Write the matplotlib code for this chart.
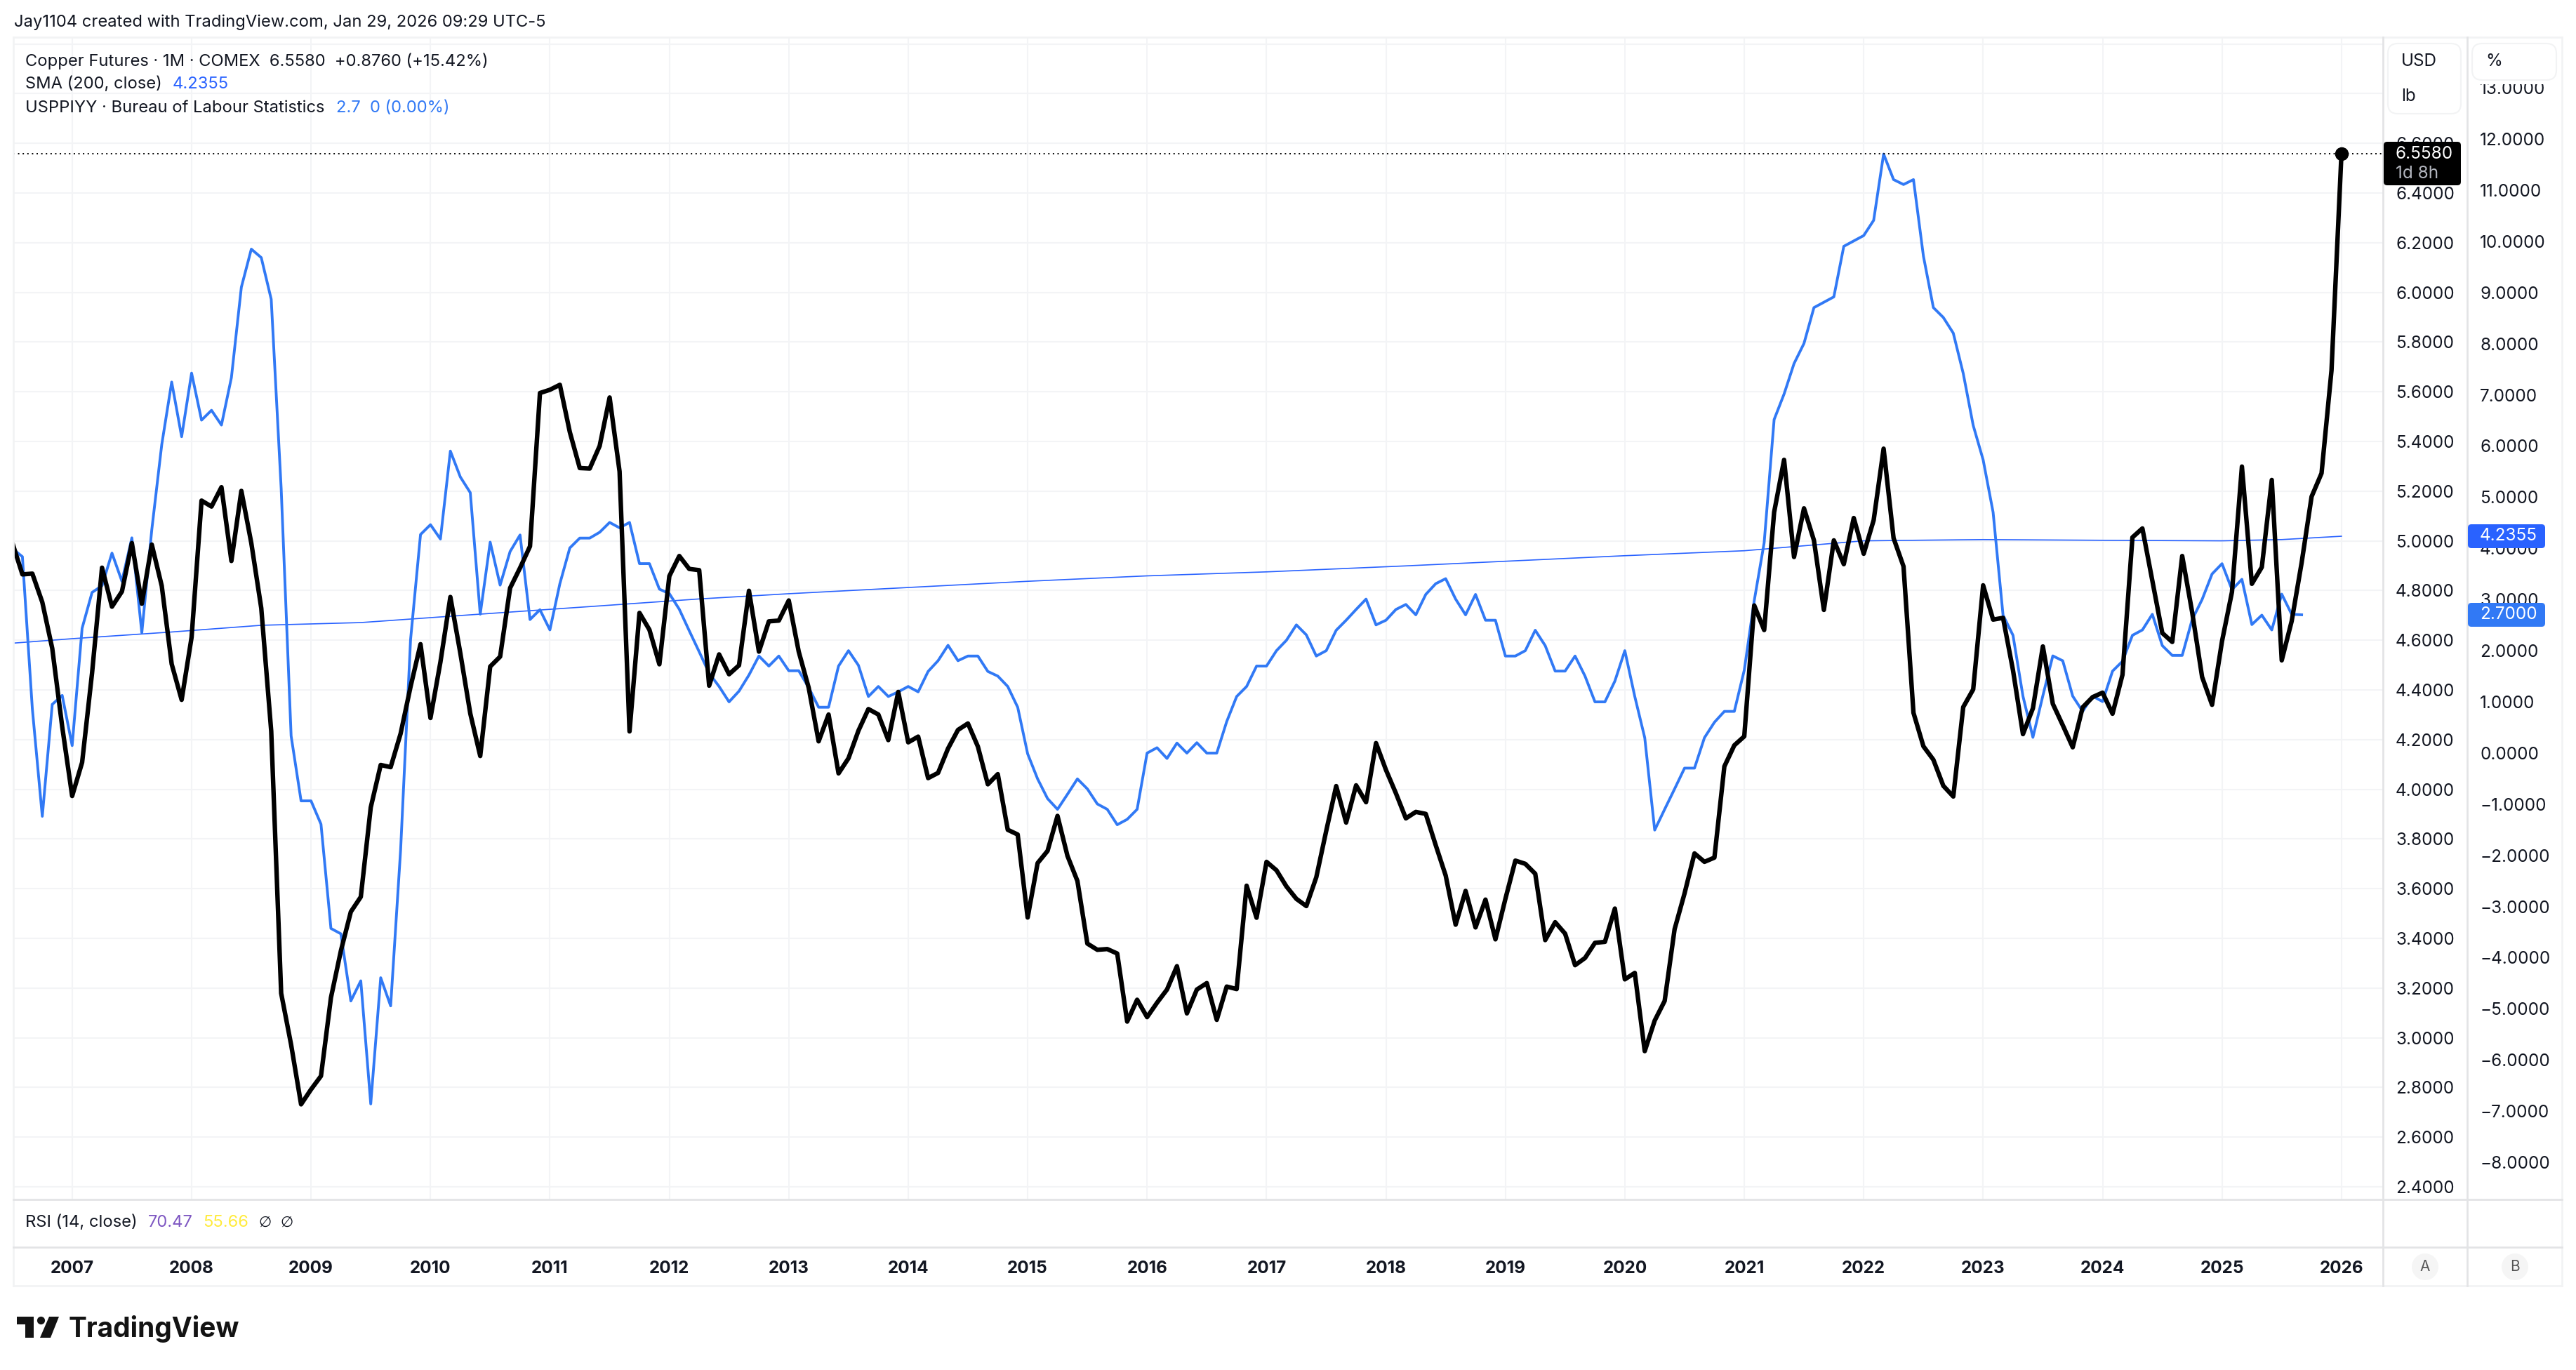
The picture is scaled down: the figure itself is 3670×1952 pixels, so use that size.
import matplotlib
matplotlib.use("Agg")
import matplotlib.pyplot as plt
import pandas as pd
from matplotlib.lines import Line2D
from matplotlib.patches import FancyBboxPatch, Circle, Polygon, Rectangle
from matplotlib.transforms import Affine2D

plt.rcParams['font.family'] = ['Inter', 'DejaVu Sans']

W, H = 3670, 1952
first_month = '2006-07'
last_month = '2026-01'

# Copper Futures, monthly close, USD/lb (Jul 2006 .. Jan 2026)
copper = [
 4.991,4.865,4.868,4.753,4.567,4.252,
 3.973,4.108,4.468,4.892,4.735,4.796,4.991,4.747,4.985,4.819,4.504,4.360,
 4.612,5.162,5.138,5.216,4.919,5.201,4.991,4.729,4.234,3.179,2.972,2.732,
 2.792,2.846,3.161,3.350,3.507,3.567,3.927,4.098,4.089,4.224,4.413,4.584,
 4.287,4.512,4.774,4.548,4.305,4.134,4.494,4.534,4.810,4.891,4.978,5.595,
 5.608,5.628,5.438,5.293,5.291,5.382,5.577,5.279,4.233,4.710,4.642,4.503,
 4.858,4.939,4.887,4.882,4.417,4.543,4.463,4.499,4.799,4.554,4.676,4.679,
 4.760,4.554,4.409,4.193,4.301,4.064,4.125,4.236,4.323,4.301,4.198,4.392,
 4.189,4.212,4.045,4.066,4.164,4.239,4.265,4.172,4.020,4.061,3.837,3.818,
 3.484,3.703,3.752,3.893,3.732,3.631,3.379,3.354,3.357,3.339,3.065,3.153,
 3.083,3.141,3.194,3.288,3.098,3.194,3.220,3.072,3.206,3.196,3.612,3.483,
 3.708,3.674,3.609,3.559,3.530,3.646,3.833,4.013,3.866,4.016,3.948,4.186,
 4.078,3.984,3.883,3.909,3.901,3.775,3.653,3.455,3.591,3.444,3.556,3.396,
 3.559,3.713,3.700,3.660,3.393,3.465,3.419,3.292,3.321,3.382,3.386,3.520,
 3.235,3.261,2.946,3.069,3.148,3.437,3.581,3.742,3.708,3.725,4.092,4.177,
 4.213,4.740,4.641,5.115,5.326,4.935,5.131,5.002,4.722,5.002,4.906,5.092,
 4.948,5.083,5.371,5.011,4.897,4.308,4.173,4.119,4.014,3.971,4.331,4.402,
 4.821,4.683,4.690,4.479,4.222,4.326,4.575,4.344,4.258,4.169,4.330,4.371,
 4.389,4.304,4.461,5.014,5.050,4.839,4.629,4.593,4.939,4.713,4.452,4.340,
 4.596,4.794,5.299,4.827,4.894,5.245,4.519,4.677,4.912,5.178,5.272,5.686,
 6.558]

# USPPIYY, percent (Jul 2006 .. Sep 2025)
ppi = [
 3.994,3.836,0.862,-1.238,0.949,1.124,
 0.144,2.437,3.137,3.268,3.906,3.355,4.204,2.349,4.361,6.024,7.249,6.181,
 7.424,6.505,6.697,6.409,7.336,9.103,9.847,9.681,8.867,5.170,0.332,-0.937,
 -0.937,-1.392,-3.430,-3.535,-4.848,-4.454,-6.860,-4.393,-4.944,-1.899,2.213,4.269,
 4.461,4.181,5.900,5.394,5.087,2.712,4.120,3.280,3.936,4.260,2.607,2.799,
 2.405,3.307,4.006,4.199,4.199,4.313,4.505,4.400,4.505,3.700,3.700,3.202,
 3.114,2.808,2.388,1.977,1.558,1.299,0.998,1.208,1.523,1.894,1.698,1.894,
 1.607,1.607,1.278,0.893,0.893,1.698,1.999,1.712,1.103,1.299,1.103,1.194,
 1.299,1.194,1.593,1.803,2.104,1.803,1.894,1.894,1.593,1.502,1.299,0.893,
 -0.017,-0.507,-0.892,-1.102,-0.808,-0.507,-0.703,-0.997,-1.102,-1.403,-1.298,-1.102,
 -0.003,0.102,-0.108,0.193,-0.003,0.200,-0.003,-0.003,0.613,1.103,1.299,1.698,
 1.698,1.999,2.202,2.503,2.307,1.894,1.999,2.398,2.594,2.804,3.007,2.503,
 2.594,2.804,2.902,2.699,3.098,3.308,3.406,3.007,2.699,3.098,2.594,2.594,
 1.894,1.894,1.999,2.398,2.097,1.600,1.600,1.894,1.502,0.998,0.998,1.404,
 1.999,1.103,0.298,-1.508,-1.102,-0.703,-0.297,-0.297,0.298,0.599,0.812,0.812,
 1.617,2.973,4.110,6.516,7.015,7.610,8.004,8.704,8.809,8.914,9.902,10.007,
 10.112,10.410,11.705,11.206,11.110,11.206,9.710,8.704,8.511,8.205,7.418,6.403,
 5.729,4.705,2.693,2.299,1.110,0.304,1.118,1.897,1.801,1.110,0.812,1.110,
 1.004,1.599,1.792,2.299,2.404,2.710,2.098,1.906,1.906,2.606,2.999,3.498,
 3.699,3.192,3.393,2.509,2.693,2.404,3.104,2.710,2.700]

# SMA (200, close) of USPPIYY, read at selected months
sma_months = ['2006-07','2007-01','2007-11','2008-08','2009-06','2010-06','2011-06','2012-04',
              '2013-01','2015-01','2016-01','2017-01','2018-03','2020-01','2021-01','2022-01',
              '2023-01','2024-01','2025-01','2025-07','2026-01']
sma_values = [2.145,2.233,2.364,2.495,2.548,2.713,2.874,3.010,
              3.112,3.355,3.461,3.539,3.656,3.855,3.952,4.146,
              4.170,4.156,4.146,4.170,4.2355]

price_ticks = [2.4,2.6,2.8,3.0,3.2,3.4,3.6,3.8,4.0,4.2,4.4,4.6,4.8,5.0,5.2,5.4,5.6,5.8,6.0,6.2,6.4,6.6,6.8,7.0]
price_hidden = [6.8, 7.0]  # gridlines only: the unit box covers these labels
pct_ticks = list(range(-8, 14))
year_labels = list(range(2007, 2027))

header = 'Jay1104 created with TradingView.com, Jan 29, 2026 09:29 UTC-5'
legend_copper = 'Copper Futures · 1M · COMEX  6.5580  +0.8760 (+15.42%)'
legend_sma = 'SMA (200, close)'
legend_sma_val = '4.2355'
legend_ppi = 'USPPIYY · Bureau of Labour Statistics'
legend_ppi_val = '2.7  0 (0.00%)'

# ---- helpers
months = pd.date_range(first_month, last_month, freq='MS')
origin = pd.Timestamp('2007-01-01')
def pos(ts):
    return (ts.year - origin.year) * 12 + ts.month - origin.month
x_all = [pos(m) for m in months]
x_sma = [pos(pd.Timestamp(m + '-01')) for m in sma_months]
year_pos = [pos(pd.Timestamp(f'{y}-01-01')) for y in year_labels]

fig = plt.figure(figsize=(W / 100, H / 100), dpi=100, facecolor='white')
px = Affine2D().scale(1, -1).translate(0, H)

L, R, T, B = 19, 3395, 53, 1709
rect = [L / W, (H - B) / H, (R - L) / W, (B - T) / H]
INK = '#131722'
GRID = '#f3f4f6'
SEP = '#e3e4e6'
EDGE = '#f2f3f4'
BLUE = '#3179f5'
SMA_C = '#2962ff'
XSTEP = 14.18
X0 = 102.8
xlim = ((L - X0) / XSTEP, (R - X0) / XSTEP)
ylim_price = (6.4 - (B - 275) / 354, 6.4 - (T - 275) / 354)
ylim_pct = (12 - (B - 198) / 72.9, 12 - (T - 198) / 72.9)

ax = fig.add_axes(rect, zorder=1)
ax2 = ax.twinx()
ax3 = ax.twinx()

ax.set_xlim(xlim)
ax.set_ylim(ylim_price)
ax.yaxis.tick_right()
ax.set_yticks(price_ticks)
ax.set_yticklabels(['' if v in price_hidden else f'{v:.4f}' for v in price_ticks], ha='left')
ax.tick_params(axis='y', length=0, pad=(3413 - R) * 0.72, labelsize=17.5, labelcolor=INK)
ax.set_xticks(year_pos)
ax.set_xticklabels([str(y) for y in year_labels], fontweight='bold')
ax.tick_params(axis='x', length=0, pad=(1796 - B) * 0.72, labelsize=17.5, labelcolor=INK)
ax.grid(True, color=GRID, lw=1.5)
ax.set_axisbelow(True)
for s in ax.spines.values():
    s.set_visible(False)

ax2.set_zorder(2)
ax2.set_ylim(ylim_pct)
ax2.yaxis.tick_right()
ax2.set_yticks(pct_ticks)
ax2.set_yticklabels([f'{v:.4f}'.replace('-', '\u2212') for v in pct_ticks], ha='left')
ax2.tick_params(axis='y', length=0, pad=(3533 - R) * 0.72, labelsize=17.5, labelcolor=INK)
ax2.plot(x_sma, sma_values, color=SMA_C, lw=1.2)
ax2.plot(x_all[:len(ppi)], ppi, color=BLUE, lw=2.8, solid_joinstyle='round')
for s in ax2.spines.values():
    s.set_visible(False)

ax3.set_zorder(3)
ax3.set_ylim(ylim_price)
ax3.set_yticks([])
ax3.plot(x_all, copper, color='black', lw=4.6, solid_joinstyle='round', solid_capstyle='round')
ax3.axhline(copper[-1], color='black', lw=1.4, ls=(0, (1, 2.4)))
ax3.plot(x_all[-1], copper[-1], 'o', color='black', ms=13)
for s in ax3.spines.values():
    s.set_visible(False)

# ---- frame
def hline(y, x0, x1, c, lw=2.0, z=6):
    fig.add_artist(Line2D([x0, x1], [y, y], color=c, lw=lw, transform=px, zorder=z))
def vline(x, y0, y1, c, lw=2.0, z=6):
    fig.add_artist(Line2D([x, x], [y0, y1], color=c, lw=lw, transform=px, zorder=z))

hline(53, L, 3650, EDGE)
hline(1832, L, 3650, EDGE)
vline(L, 53, 1832, EDGE)
vline(3650, 53, 1832, EDGE)
hline(1709, L, 3650, SEP)
hline(1777, L, 3650, SEP)
vline(3395, 53, 1832, SEP)
vline(3515, 53, 1832, SEP)

def box(x0, y0, x1, y1, fc, ec='none', r=6, z=8):
    fig.add_artist(FancyBboxPatch((x0, y0), x1 - x0, y1 - y0,
                                  boxstyle=f'round,pad=0,rounding_size={r}',
                                  fc=fc, ec=ec, lw=1.5, transform=px, zorder=z))
def txt(x, y, s, c=INK, size=17.1, ha='left', va='center', z=11, **kw):
    fig.text(x, y, s, color=c, fontsize=size, ha=ha, va=va, transform=px, zorder=z, **kw)

# unit boxes on the scales
fig.add_artist(Rectangle((3397, 55), 116, 110, fc='white', ec='none', transform=px, zorder=7))
fig.add_artist(Rectangle((3517, 55), 131, 65, fc='white', ec='none', transform=px, zorder=7))
box(3402, 62, 3506, 162, 'white', EDGE, r=14)
box(3522, 62, 3642, 114, 'white', EDGE, r=14)
txt(3421, 87, 'USD', size=17.5)
txt(3421, 137, 'lb', size=17.5)
txt(3541, 88, '%', size=17.5)

# value labels
box(3396, 202, 3506, 264, 'black', r=5)
txt(3413, 219, f'{copper[-1]:.4f}', c='white', size=17.5)
txt(3413, 247, '1d 8h', c='#b2b5be', size=17.5)
box(3516, 747, 3626, 781, SMA_C, r=5)
txt(3533, 764, f'{sma_values[-1]:.4f}', c='white', size=17.5)
box(3516, 859, 3626, 893, BLUE, r=5)
txt(3533, 876, f'{ppi[-1]:.4f}', c='white', size=17.5)

# pane legends
txt(20.5, 32, header)
txt(35.5, 87, legend_copper)
txt(35.5, 120, legend_sma)
txt(245.5, 120, legend_sma_val, c=SMA_C)
txt(35.5, 154, legend_ppi)
txt(479, 154, legend_ppi_val, c=BLUE)
txt(35.5, 1742, 'RSI (14, close)')
txt(211, 1742, '70.47', c='#7e57c2')
txt(289, 1742, '55.66', c='#ffeb3b')
txt(368, 1742, '\u2205', size=15, family=['DejaVu Sans'])
txt(399, 1742, '\u2205', size=15, family=['DejaVu Sans'])

# scale mode buttons
for cx, label in [(3455, 'A'), (3583, 'B')]:
    fig.add_artist(Circle((cx, 1805), 19, fc='#f5f5f5', ec='none', transform=px, zorder=8))
    txt(cx, 1805, label, c='#555555', size=15, ha='center')

# TradingView mark
LOGO = '#131313'
fig.add_artist(Polygon([(24, 1876), (48, 1876), (48, 1906), (36, 1906), (36, 1887), (24, 1887)],
                       closed=True, fc=LOGO, ec='none', transform=px, zorder=8))
fig.add_artist(Circle((58.5, 1881.5), 5.6, fc=LOGO, ec='none', transform=px, zorder=8))
fig.add_artist(Polygon([(70, 1876), (84, 1876), (72, 1906), (57, 1906)],
                       closed=True, fc=LOGO, ec='none', transform=px, zorder=8))
txt(98, 1905, 'TradingView', c=LOGO, size=28, va='baseline', fontweight='bold')

fig.savefig('out.png', dpi=100, facecolor='white')
